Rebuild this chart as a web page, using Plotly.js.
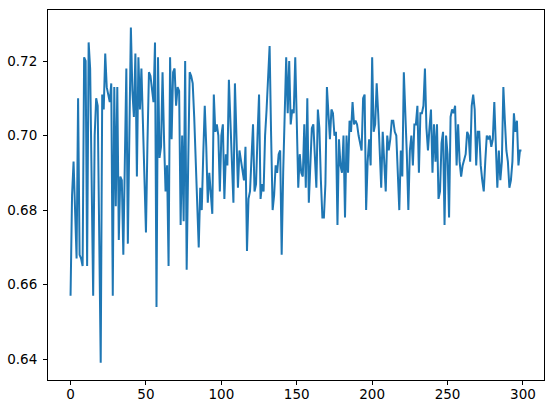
<!DOCTYPE html>
<html>
<head>
<meta charset="utf-8">
<script src="https://cdn.plot.ly/plotly-3.0.1.min.js"></script>
<style>
  html, body { margin: 0; padding: 0; background: #fff; }
  #myDiv { width: 556px; height: 413px; }
</style>
</head>
<body>
<div id="myDiv"></div>
<script>
// Values, one per step (0..299)
var values = [
  0.657, 0.684, 0.693, 0.680, 0.667, 0.710, 0.668, 0.667, 0.665, 0.721,
  0.720, 0.665, 0.725, 0.718, 0.690, 0.657, 0.700, 0.710, 0.708, 0.680,
  0.639, 0.711, 0.707, 0.722, 0.713, 0.711, 0.709, 0.714, 0.657, 0.713,
  0.681, 0.713, 0.672, 0.689, 0.688, 0.668, 0.695, 0.718, 0.671, 0.700,
  0.729, 0.712, 0.705, 0.722, 0.689, 0.721, 0.707, 0.718, 0.705, 0.690,
  0.674, 0.698, 0.717, 0.716, 0.712, 0.709, 0.725, 0.654, 0.721, 0.694,
  0.697, 0.717, 0.699, 0.685, 0.692, 0.665, 0.721, 0.699, 0.717, 0.718,
  0.708, 0.713, 0.712, 0.676, 0.700, 0.677, 0.720, 0.664, 0.692, 0.717,
  0.716, 0.714, 0.705, 0.694, 0.682, 0.670, 0.686, 0.680, 0.695, 0.708,
  0.697, 0.682, 0.690, 0.684, 0.679, 0.711, 0.701, 0.703, 0.700, 0.685,
  0.700, 0.703, 0.683, 0.695, 0.692, 0.715, 0.702, 0.692, 0.682, 0.714,
  0.698, 0.686, 0.696, 0.693, 0.690, 0.688, 0.697, 0.669, 0.683, 0.685,
  0.694, 0.703, 0.685, 0.687, 0.700, 0.711, 0.683, 0.687, 0.685, 0.700,
  0.707, 0.716, 0.724, 0.700, 0.680, 0.684, 0.692, 0.690, 0.695, 0.696,
  0.668, 0.690, 0.706, 0.721, 0.706, 0.720, 0.703, 0.707, 0.706, 0.721,
  0.704, 0.686, 0.695, 0.690, 0.689, 0.703, 0.686, 0.710, 0.682, 0.692,
  0.702, 0.703, 0.695, 0.686, 0.707, 0.702, 0.688, 0.678, 0.678, 0.687,
  0.713, 0.706, 0.699, 0.707, 0.706, 0.700, 0.701, 0.676, 0.699, 0.692,
  0.690, 0.700, 0.678, 0.700, 0.690, 0.704, 0.701, 0.709, 0.703, 0.704,
  0.703, 0.700, 0.698, 0.696, 0.710, 0.711, 0.680, 0.693, 0.699, 0.692,
  0.721, 0.701, 0.703, 0.714, 0.706, 0.696, 0.686, 0.701, 0.692, 0.685,
  0.700, 0.696, 0.699, 0.704, 0.704, 0.701, 0.700, 0.692, 0.680, 0.696,
  0.689, 0.717, 0.707, 0.695, 0.680, 0.696, 0.700, 0.692, 0.703, 0.703,
  0.708, 0.690, 0.706, 0.706, 0.708, 0.718, 0.702, 0.696, 0.702, 0.707,
  0.690, 0.703, 0.693, 0.703, 0.683, 0.685, 0.698, 0.701, 0.676, 0.700,
  0.695, 0.678, 0.705, 0.707, 0.706, 0.708, 0.692, 0.703, 0.693, 0.689,
  0.692, 0.694, 0.695, 0.701, 0.700, 0.693, 0.708, 0.711, 0.707, 0.692,
  0.701, 0.701, 0.692, 0.688, 0.685, 0.693, 0.700, 0.699, 0.700, 0.697,
  0.699, 0.709, 0.698, 0.686, 0.696, 0.688, 0.693, 0.713, 0.704, 0.696,
  0.693, 0.686, 0.688, 0.693, 0.706, 0.701, 0.704, 0.692, 0.696, 0.696
];

// x is just the step number, like plt.plot(values)
var steps = values.map(function(v, i) { return i; });

var xTicks = [0, 50, 100, 150, 200, 250, 300];
var yTicks = [0.64, 0.66, 0.68, 0.70, 0.72];

var trace = {
  x: steps,
  y: values,
  type: 'scatter',
  mode: 'lines',
  line: { color: '#1f77b4', width: 2 },
  hoverinfo: 'skip'
};

var axisStyle = {
  showgrid: false,
  zeroline: false,
  showline: true,
  mirror: true,
  linecolor: '#000',
  linewidth: 1,
  ticks: 'outside',
  ticklen: 4,
  tickwidth: 1,
  tickcolor: '#000'
};

var layout = {
  width: 556,
  height: 413,
  margin: { l: 48, r: 12, t: 10, b: 33 },
  paper_bgcolor: '#fff',
  plot_bgcolor: '#fff',
  showlegend: false,
  font: { family: 'DejaVu Sans', size: 13.5, color: '#000' },
  xaxis: Object.assign({}, axisStyle, {
    range: [-14.95, 313.95],
    tickmode: 'array',
    tickvals: xTicks,
    ticktext: xTicks.map(String),
    ticklabelstandoff: -2
  }),
  yaxis: Object.assign({}, axisStyle, {
    range: [0.6344, 0.7337],
    tickmode: 'array',
    tickvals: yTicks,
    ticktext: yTicks.map(function(t) { return t.toFixed(2); }),
    ticklabelstandoff: 3
  })
};

Plotly.newPlot('myDiv', [trace], layout, { staticPlot: true, displayModeBar: false });
</script>
</body>
</html>
